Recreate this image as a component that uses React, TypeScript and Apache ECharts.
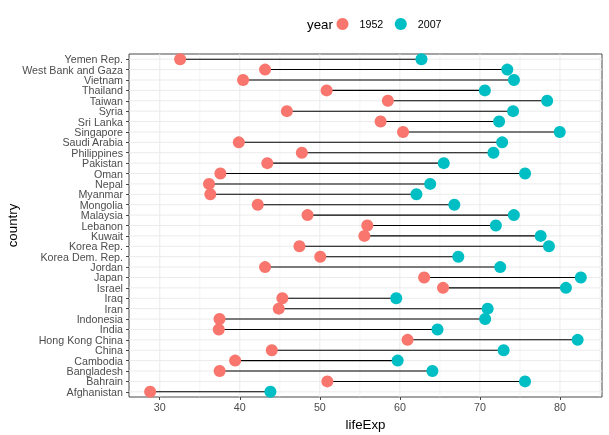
import React, { useEffect, useRef } from "react";
import * as echarts from "echarts";

const countries = ["Afghanistan","Bahrain","Bangladesh","Cambodia","China","Hong Kong China","India","Indonesia","Iran","Iraq","Israel","Japan","Jordan","Korea Dem. Rep.","Korea Rep.","Kuwait","Lebanon","Malaysia","Mongolia","Myanmar","Nepal","Oman","Pakistan","Philippines","Saudi Arabia","Singapore","Sri Lanka","Syria","Taiwan","Thailand","Vietnam","West Bank and Gaza","Yemen Rep."];
const lifeExp1952 = [28.801,50.939,37.484,39.417,44.0,60.96,37.373,37.468,44.869,45.32,65.39,63.03,43.158,50.056,47.453,55.565,55.928,48.463,42.244,36.319,36.157,37.578,43.436,47.752,39.875,60.396,57.593,45.883,58.5,50.848,40.412,43.16,32.548];
const lifeExp2007 = [43.828,75.635,64.062,59.723,72.961,82.208,64.698,70.65,70.964,59.545,80.745,82.603,72.535,67.297,78.623,77.588,71.993,74.241,66.803,62.069,63.785,75.64,65.483,71.688,72.777,79.972,72.396,74.143,78.4,70.616,74.249,73.422,62.698];
const years = ["1952", "2007"];
const xTicks = [30, 40, 50, 60, 70, 80];
const xMinor = [35, 45, 55, 65, 75, 85];

const FONT = "Liberation Sans, Arial, Helvetica, sans-serif";

export default function App() {
  const ref = useRef<HTMLDivElement>(null);
  useEffect(() => {
    const chart = echarts.init(ref.current!, null, { renderer: "svg" });
    const gridColor = "#EBEBEB";
    const option: any = {
      animation: false,
      textStyle: { fontFamily: FONT },
      grid: {
        left: 129, right: 7, top: 54, bottom: 38,
        show: true, borderColor: "#333333", borderWidth: 0.9, backgroundColor: "transparent",
        containLabel: false,
      },
      legend: {
        data: years,
        left: 331.5, top: 13,
        icon: "circle", itemWidth: 12, itemHeight: 12, itemGap: 11.5,
        textStyle: { fontFamily: FONT, fontSize: 10.7, color: "#000", padding: [0, 0, 0, 6] },
      },
      graphic: [
        { type: "text", x: 307, y: 24, style: { text: "year", fontFamily: FONT, fontSize: 13.3, fill: "#000", verticalAlign: "middle" } },
        { type: "text", x: 365.5, y: 424, style: { text: "lifeExp", fontFamily: FONT, fontSize: 13.3, fill: "#000", align: "center", verticalAlign: "middle" } },
        { type: "text", x: 12, y: 225.5, rotation: Math.PI / 2, style: { text: "country", fontFamily: FONT, fontSize: 13.3, fill: "#000", align: "center", verticalAlign: "middle" } },
      ],
      xAxis: {
        type: "value", min: 26.16, max: 85.25, interval: 10,
        axisLine: { show: false },
        splitLine: { show: false },
        axisTick: { show: true, length: 3, customValues: xTicks, lineStyle: { color: "#333333", width: 0.9 } },
        axisLabel: {
          customValues: xTicks, margin: 4, fontSize: 10.7, color: "#4D4D4D", fontFamily: FONT,
          formatter: (v: number) => (xTicks.includes(v) ? String(v) : ""),
        },
      },
      yAxis: {
        type: "category", data: countries, boundaryGap: true,
        axisLine: { show: false },
        splitLine: { show: false },
        axisTick: { show: true, length: 3, alignWithLabel: true, lineStyle: { color: "#333333", width: 0.9 } },
        axisLabel: { margin: 6, fontSize: 10.7, lineHeight: 10, color: "#4D4D4D", fontFamily: FONT, interval: 0 },
      },
      series: [
        {
          type: "custom", name: "gridH", z: 1, silent: true,
          data: countries.map((_, i) => [i]),
          renderItem: (params: any, api: any) => {
            const cs = params.coordSys;
            const y = api.coord([50, api.value(0)])[1];
            return { type: "line", shape: { x1: cs.x, y1: y, x2: cs.x + cs.width, y2: y }, style: { stroke: gridColor, lineWidth: 1 } };
          },
        },
        {
          type: "custom", name: "gridV", z: 1, silent: true,
          data: xTicks.map((v) => [v, 1]).concat(xMinor.map((v) => [v, 0.55])),
          renderItem: (params: any, api: any) => {
            const cs = params.coordSys;
            const x = api.coord([api.value(0), 0])[0];
            return { type: "line", shape: { x1: x, y1: cs.y, x2: x, y2: cs.y + cs.height }, style: { stroke: gridColor, lineWidth: api.value(1) } };
          },
        },
        {
          type: "custom", name: "segments", z: 2, silent: true,
          data: countries.map((_, i) => [lifeExp1952[i], lifeExp2007[i], i]),
          renderItem: (params: any, api: any) => {
            const p1 = api.coord([api.value(0), api.value(2)]);
            const p2 = api.coord([api.value(1), api.value(2)]);
            return { type: "line", shape: { x1: p1[0], y1: p1[1], x2: p2[0], y2: p2[1] }, style: { stroke: "#000000", lineWidth: 1.05 } };
          },
        },
        {
          type: "scatter", name: "1952", z: 3, symbolSize: 12,
          itemStyle: { color: "#F8766D", opacity: 1 },
          data: countries.map((c, i) => [lifeExp1952[i], c]),
        },
        {
          type: "scatter", name: "2007", z: 3, symbolSize: 12,
          itemStyle: { color: "#00BFC4", opacity: 1 },
          data: countries.map((c, i) => [lifeExp2007[i], c]),
        },
      ],
    };
    chart.setOption(option);
    return () => chart.dispose();
  }, []);
  return <div ref={ref} style={{ position: "fixed", left: 0, top: 0, width: 609, height: 435 }} />;
}
